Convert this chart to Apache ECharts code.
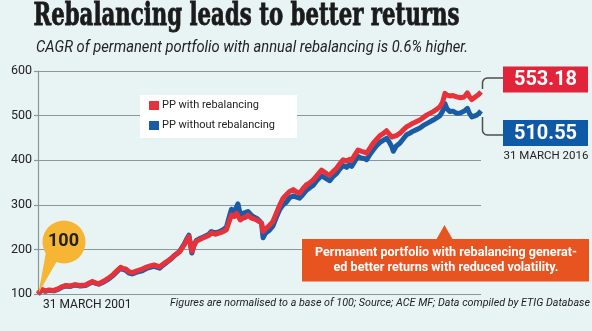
<!DOCTYPE html>
<html>
<head>
<meta charset="utf-8">
<script src="https://cdn.jsdelivr.net/npm/echarts/dist/echarts.min.js"></script>
<style>
  html, body { margin: 0; padding: 0; background: #e8f3f4; }
  #chart { width: 592px; height: 331px; }
</style>
</head>
<body>
<div id="chart"></div>
<script>
// Dates as fractional years (31 March 2001 = 2001.25 ... 31 March 2016 = 2016.25)
const years = [
  2001.25, 2001.32, 2001.39, 2001.50, 2001.62, 2001.79, 2001.95, 2002.05, 2002.18, 2002.35,
  2002.50, 2002.68, 2002.86, 2002.97, 2003.09, 2003.20, 2003.31, 2003.48, 2003.65, 2003.80,
  2003.92, 2004.05, 2004.13, 2004.22, 2004.33, 2004.44, 2004.60, 2004.78, 2004.95, 2005.05,
  2005.18, 2005.28, 2005.37, 2005.47, 2005.57, 2005.71, 2005.85, 2005.95, 2006.05, 2006.20,
  2006.30, 2006.36, 2006.42, 2006.46, 2006.53, 2006.61, 2006.75, 2006.85, 2006.95, 2007.05,
  2007.12, 2007.25, 2007.40, 2007.52, 2007.63, 2007.72, 2007.80, 2007.90, 2007.97, 2008.02,
  2008.10, 2008.19, 2008.28, 2008.36, 2008.48, 2008.58, 2008.65, 2008.75, 2008.82, 2008.87,
  2008.95, 2009.03, 2009.10, 2009.20, 2009.32, 2009.44, 2009.55, 2009.65, 2009.77, 2009.89,
  2009.98, 2010.11, 2010.22, 2010.34, 2010.45, 2010.57, 2010.70, 2010.85, 2010.98, 2011.05,
  2011.13, 2011.25, 2011.36, 2011.47, 2011.58, 2011.70, 2011.80, 2011.87, 2011.98, 2012.09,
  2012.20, 2012.30, 2012.38, 2012.48, 2012.60, 2012.72, 2012.83, 2012.95, 2013.05, 2013.15,
  2013.23, 2013.28, 2013.38, 2013.50, 2013.62, 2013.73, 2013.85, 2013.95, 2014.05, 2014.18,
  2014.30, 2014.41, 2014.52, 2014.63, 2014.75, 2014.86, 2014.95, 2015.03, 2015.10, 2015.20,
  2015.30, 2015.43, 2015.55, 2015.65, 2015.72, 2015.79, 2015.86, 2015.94, 2016.02, 2016.10,
  2016.18, 2016.25
];

// Permanent portfolio value, annual rebalancing (base 100)
const withRebalancing = [
  100, 106, 110, 107, 109, 108, 112, 116, 119, 118,
  121, 119, 120, 124, 128, 125, 123, 129, 136, 144,
  152, 160, 157, 156, 150, 148, 152, 156, 161, 163,
  165, 163, 161, 166, 171, 177, 185, 190, 195, 210,
  222, 229, 210, 196, 208, 218, 223, 226, 229, 232,
  237, 234, 237, 240, 244, 262, 277, 274, 281, 280,
  266, 270, 272, 277, 270, 268, 266, 262, 259, 240,
  246, 250, 255, 262, 281, 300, 315, 322, 330, 334,
  330, 326, 336, 345, 349, 356, 366, 378, 372, 368,
  367, 375, 382, 392, 401, 398, 402, 400, 412, 423,
  420, 418, 416, 426, 438, 447, 455, 460, 466, 458,
  452, 448, 455, 460, 468, 475, 479, 483, 486, 490,
  496, 501, 505, 509, 514, 520, 530, 550, 546, 544,
  545, 542, 540, 541, 545, 551, 542, 536, 540, 544,
  548, 553.18
];

// Permanent portfolio value, no rebalancing (base 100)
const withoutRebalancing = [
  100, 105, 109, 106, 108, 107, 111, 115, 118, 117,
  120, 118, 119, 123, 127, 124, 122, 127, 134, 142,
  150, 158, 155, 153, 147, 145, 149, 152, 158, 160,
  162, 160, 158, 164, 169, 176, 185, 190, 196, 212,
  225, 232, 208, 192, 209, 220, 225, 228, 231, 235,
  240, 237, 240, 244, 250, 272, 290, 285, 295, 302,
  278, 281, 283, 285, 276, 272, 270, 264, 258, 226,
  236, 240, 244, 252, 272, 290, 300, 305, 316, 320,
  318, 315, 323, 333, 338, 344, 355, 365, 360, 357,
  354, 364, 370, 380, 388, 384, 390, 386, 398, 408,
  405, 404, 401, 412, 423, 433, 440, 445, 449, 440,
  430, 420, 432, 438, 448, 457, 461, 465, 468, 472,
  478, 482, 486, 490, 495, 500, 510, 527, 515, 509,
  510, 505, 506, 509, 512, 516, 505, 497, 499, 501,
  505, 510.55
];

const seriesNames = ['PP with rebalancing', 'PP without rebalancing'];
const yTicks = [100, 200, 300, 400, 500, 600];
const startDateLabel = '31 MARCH 2001';
const endDateLabel = '31 MARCH 2016';

const RED = '#e5323b';
const BLUE = '#1a5ba6';
const RED_BOX = '#e2243a';
const BLUE_BOX = '#0f5aa7';
const GRID_GREY = '#8d979b';

const chart = echarts.init(document.getElementById('chart'), null, { renderer: 'canvas' });

// canvas text measurement, used to squeeze wide fonts to a target width
const measureCtx = document.createElement('canvas').getContext('2d');
function fitScale(text, style, family, weight, size, target) {
  measureCtx.font = `${style} ${weight} ${size}px ${family}`;
  const w = measureCtx.measureText(text).width;
  return target / w;
}

function toPair(arr) { return arr.map((v, i) => [years[i], v]); }

chart.setOption({
  backgroundColor: '#e8f3f4',
  animation: false,
  grid: { left: 38, right: 111, top: 71, bottom: 37 },
  xAxis: {
    type: 'value',
    min: years[0],
    max: years[years.length - 1],
    axisLine: { show: false },
    axisTick: { show: false },
    axisLabel: { show: false },
    splitLine: { show: false }
  },
  yAxis: {
    type: 'value',
    min: yTicks[0],
    max: yTicks[yTicks.length - 1],
    interval: yTicks[1] - yTicks[0],
    axisLine: { show: true, lineStyle: { color: GRID_GREY, width: 1.2 } },
    axisTick: { show: true, length: 4, lineStyle: { color: GRID_GREY, width: 1.2 } },
    axisLabel: { color: '#222', fontSize: 12.5, fontFamily: 'Roboto', margin: 6 },
    splitLine: { show: true, lineStyle: { color: GRID_GREY, width: 1.2 } }
  },
  legend: {
    orient: 'vertical',
    left: 149,
    top: 100,
    itemWidth: 10,
    itemHeight: 9,
    itemGap: 9,
    icon: 'rect',
    padding: 0,
    textStyle: { color: '#222', fontSize: 11, fontFamily: 'Roboto', padding: [0, 0, 0, -2] },
    data: seriesNames,
    z: 6
  },
  series: [
    {
      name: seriesNames[1],
      type: 'line',
      data: toPair(withoutRebalancing),
      showSymbol: false,
      color: BLUE,
      lineStyle: { color: BLUE, width: 5, join: 'round' },
      z: 2
    },
    {
      name: seriesNames[0],
      type: 'line',
      data: toPair(withRebalancing),
      showSymbol: false,
      color: RED,
      lineStyle: { color: RED, width: 5, join: 'round' },
      z: 3
    }
  ]
});

// end-of-series pixel positions for the value call-outs
const lastIdx = years.length - 1;
const redEnd = chart.convertToPixel({ gridIndex: 0 }, [years[lastIdx], withRebalancing[lastIdx]]);
const blueEnd = chart.convertToPixel({ gridIndex: 0 }, [years[lastIdx], withoutRebalancing[lastIdx]]);
const startPt = chart.convertToPixel({ gridIndex: 0 }, [years[0], withRebalancing[0]]);

const titleText = 'Rebalancing leads to better returns';
const subText = 'CAGR of permanent portfolio with annual rebalancing is 0.6% higher.';
const noteText = 'Figures are normalised to a base of 100; Source; ACE MF; Data compiled by ETIG Database';
const boxLine1 = 'Permanent portfolio with rebalancing generat-';
const boxLine2 = 'ed better returns with reduced volatility.';

const titleScale = fitScale(titleText, 'normal', '"DejaVu Serif"', 'bold', 32, 426);
const subScale = fitScale(subText, 'italic', 'Roboto', 'normal', 16, 432);
const noteScale = fitScale(noteText, 'italic', 'Roboto', 'normal', 11, 420);
const boxScale = fitScale(boxLine1, 'normal', 'Roboto', 'bold', 12, 262);

const boxX = 503, boxW = 85, boxH = 26;
const redBoxY = 66.5, blueBoxY = 120;
const connX = redEnd[0] + 1.5;
const r = 5;
const redConnY = redBoxY + 11.5;
const blueConnY = blueBoxY + 15;

// elbow connector: vertical run from the line end, rounded corner, then across to the box
function elbow(x0, yStart, yTurn, xEnd) {
  const dir = yTurn < yStart ? 1 : -1;
  const pts = [[x0, yStart], [x0, yTurn + dir * r]];
  const cx = x0 + r, cy = yTurn + dir * r;
  for (let k = 1; k <= 6; k++) {
    const t = (Math.PI / 2) * (k / 6);
    pts.push([cx - r * Math.cos(t), cy - dir * r * Math.sin(t)]);
  }
  pts.push([xEnd, yTurn]);
  return pts;
}

function fmt(v) { return v.toFixed(2); }

chart.setOption({
  graphic: [
    // heading
    {
      type: 'text', x: 33.5, y: 17, scaleX: titleScale, z: 10,
      style: {
        text: titleText, fontFamily: '"DejaVu Serif"', fontWeight: 'bold', fontSize: 32,
        fill: '#1b1b1b', stroke: '#1b1b1b', lineWidth: 0.9,
        align: 'left', verticalAlign: 'middle'
      }
    },
    {
      type: 'text', x: 36, y: 47.5, scaleX: subScale, z: 10,
      style: {
        text: subText, fontFamily: 'Roboto', fontStyle: 'italic', fontSize: 16,
        fill: '#222', align: 'left', verticalAlign: 'middle'
      }
    },
    // legend panel
    {
      type: 'rect', z: 3,
      shape: { x: 140, y: 95, width: 157, height: 43 },
      style: { fill: '#ffffff' }
    },
    // value call-outs
    {
      type: 'polyline', z: 5,
      shape: { points: elbow(connX, redEnd[1] - 3, redConnY, boxX) },
      style: { stroke: '#4d4d4d', lineWidth: 1.5, fill: null }
    },
    {
      type: 'polyline', z: 5,
      shape: { points: elbow(connX, blueEnd[1] + 6, blueConnY, boxX) },
      style: { stroke: '#4d4d4d', lineWidth: 1.5, fill: null }
    },
    {
      type: 'rect', z: 6,
      shape: { x: boxX, y: redBoxY, width: boxW, height: boxH },
      style: { fill: RED_BOX }
    },
    {
      type: 'text', z: 7, x: boxX + boxW / 2, y: redBoxY + boxH / 2 + 0.5,
      style: {
        text: fmt(withRebalancing[lastIdx]), fontFamily: 'Roboto', fontWeight: 'bold', fontSize: 20,
        fill: '#fff', align: 'center', verticalAlign: 'middle'
      }
    },
    {
      type: 'rect', z: 6,
      shape: { x: boxX, y: blueBoxY, width: boxW, height: boxH },
      style: { fill: BLUE_BOX }
    },
    {
      type: 'text', z: 7, x: boxX + boxW / 2, y: blueBoxY + boxH / 2 + 0.5,
      style: {
        text: fmt(withoutRebalancing[lastIdx]), fontFamily: 'Roboto', fontWeight: 'bold', fontSize: 20,
        fill: '#fff', align: 'center', verticalAlign: 'middle'
      }
    },
    {
      type: 'text', z: 7, x: 546, y: 156.5,
      style: {
        text: endDateLabel, fontFamily: 'Roboto', fontSize: 11.5,
        fill: '#222', align: 'center', verticalAlign: 'middle'
      }
    },
    // starting-value bubble
    {
      type: 'polygon', z: 6,
      shape: { points: [[startPt[0] + 0.5, startPt[1] - 1], [46, 252], [57, 261]] },
      style: { fill: '#f6b533' }
    },
    {
      type: 'circle', z: 6,
      shape: { cx: 64, cy: 242, r: 21.5 },
      style: { fill: '#f6b533' }
    },
    {
      type: 'text', z: 7, x: 63.5, y: 241.5,
      style: {
        text: String(withRebalancing[0]), fontFamily: 'Roboto', fontWeight: 'bold', fontSize: 18,
        fill: '#222', align: 'center', verticalAlign: 'middle'
      }
    },
    {
      type: 'text', z: 7, x: 43, y: 305,
      style: {
        text: startDateLabel, fontFamily: 'Roboto', fontSize: 12,
        fill: '#222', align: 'left', verticalAlign: 'middle'
      }
    },
    // annotation
    {
      type: 'polygon', z: 6,
      shape: { points: [[436, 240], [444.5, 225], [453, 240]] },
      style: { fill: '#e8541f' }
    },
    {
      type: 'rect', z: 6,
      shape: { x: 302, y: 239, width: 287, height: 42.5 },
      style: { fill: '#e8541f' }
    },
    {
      type: 'text', z: 7, x: 446, y: 253, scaleX: boxScale,
      style: {
        text: boxLine1, fontFamily: 'Roboto', fontWeight: 'bold', fontSize: 12,
        fill: '#fff', align: 'center', verticalAlign: 'middle'
      }
    },
    {
      type: 'text', z: 7, x: 446, y: 268, scaleX: boxScale,
      style: {
        text: boxLine2, fontFamily: 'Roboto', fontWeight: 'bold', fontSize: 12,
        fill: '#fff', align: 'center', verticalAlign: 'middle'
      }
    },
    // source note
    {
      type: 'text', z: 7, x: 170, y: 303, scaleX: noteScale,
      style: {
        text: noteText, fontFamily: 'Roboto', fontStyle: 'italic', fontSize: 11,
        fill: '#222', align: 'left', verticalAlign: 'middle'
      }
    }
  ]
});
</script>
</body>
</html>
